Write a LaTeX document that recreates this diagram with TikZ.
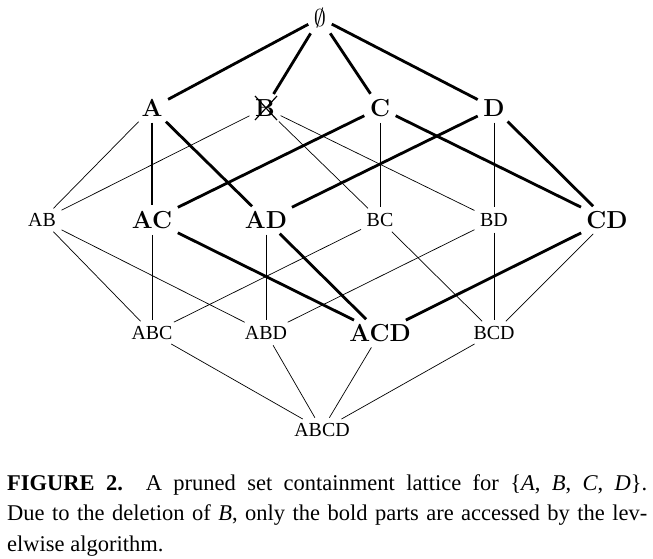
\documentclass[tikz,border=0pt]{standalone}
\usepackage{fontspec}
\setmainfont{Liberation Serif}
\newfontfamily\lmfont{Latin Modern Roman}
\begin{document}
\begin{tikzpicture}[x=0.03cm,y=-0.03cm,
  thin/.style={line width=0.6pt,shorten <=3pt,shorten >=3pt},
  bold/.style={line width=2.4pt,shorten <=3pt,shorten >=3pt},
  lab/.style={inner sep=2pt,font=\fontsize{17}{17}\selectfont},
  blab/.style={inner sep=2pt,font=\lmfont\bfseries\fontsize{21}{21}\selectfont}]
\useasboundingbox (0,0) rectangle (653,558);
\node[blab] (e) at (320,18) {$\emptyset$};
\node[blab] (A) at (152,108) {A};
\node[blab] (B) at (265,108) {B};
\draw[line width=1pt] (255,96) -- (277,120) (255,120) -- (277,96);
\node[blab] (C) at (380,108) {C};
\node[blab] (D) at (494,108) {D};
\node[lab] (AB) at (42,220) {AB};
\node[blab] (AC) at (152,220) {AC};
\node[blab] (AD) at (266,220) {AD};
\node[lab] (BC) at (380,220) {BC};
\node[lab] (BD) at (494,220) {BD};
\node[blab] (CD) at (607,220) {CD};
\node[lab] (ABC) at (152,333) {ABC};
\node[lab] (ABD) at (266,333) {ABD};
\node[blab] (ACD) at (380,333) {ACD};
\node[lab] (BCD) at (494,333) {BCD};
\node[lab] (ABCD) at (322,430) {ABCD};
\foreach \a/\b in {e/A,e/B,e/C,e/D,A/AC,A/AD,C/AC,C/CD,D/AD,D/CD,AC/ACD,AD/ACD,CD/ACD}
  \draw[bold] (\a) -- (\b);
\foreach \a/\b in {A/AB,B/AB,B/BC,B/BD,C/BC,D/BD,AB/ABC,AB/ABD,AC/ABC,AD/ABD,BC/ABC,BC/BCD,BD/ABD,BD/BCD,CD/BCD,ABC/ABCD,ABD/ABCD,ACD/ABCD,BCD/ABCD}
  \draw[thin] (\a) -- (\b);
\node[anchor=north west,inner sep=0pt,text width=19.2cm,align=justify,
  font=\fontsize{19.2}{26}\selectfont] (cap) at (7,474)
  {\textbf{FIGURE 2.}\ \ A pruned set containment lattice for \{\textit{A}, \textit{B}, \textit{C}, \textit{D}\}.\linebreak
  Due to the deletion of \textit{B}, only the bold parts are accessed by the levelwise algorithm.};
\end{tikzpicture}
\end{document}
